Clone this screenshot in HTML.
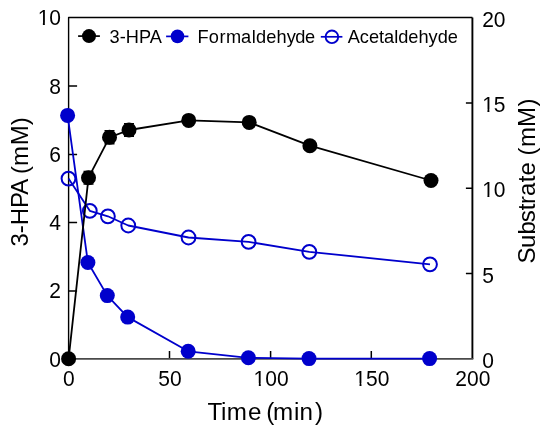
<!DOCTYPE html>
<html><head><meta charset="utf-8"><title>3-HPA time course</title>
<style>html,body{margin:0;padding:0;background:#fff;width:550px;height:433px;overflow:hidden}svg{display:block}</style>
</head><body>
<svg width="550" height="433" viewBox="0 0 550 433"><rect width="550" height="433" fill="#fff"/><path d="M169.5,358.9V350.9 M270.6,358.9V350.9 M371.3,358.9V350.9 M68.6,291.0H77.1 M68.6,222.6H77.1 M68.6,154.4H77.1 M68.6,85.9H77.1 M472.4,273.5H465.9 M472.4,188.2H465.9 M472.4,102.9H465.9" stroke="#000" stroke-width="1.5" fill="none"/><path d="M68.6,358.9V17.5H472.4" fill="none" stroke="#000" stroke-width="1.4" stroke-linejoin="round"/><path d="M472.4,17.5V358.9" fill="none" stroke="#000" stroke-width="1.9"/><path d="M67.89999999999999,358.9H473.29999999999995" fill="none" stroke="#4a4a4a" stroke-width="1.6"/><polyline points="68.50,178.60 89.80,210.80 107.90,216.30 128.25,225.50 188.50,237.50 248.60,241.90 309.30,251.80 430.00,264.30" fill="none" stroke="#0000cc" stroke-width="1.8" stroke-linejoin="round"/><polyline points="67.60,115.40 87.90,262.50 107.30,295.60 127.70,317.10 188.20,351.30 248.40,357.80 309.00,358.60 429.60,358.60" fill="none" stroke="#0000cc" stroke-width="1.8" stroke-linejoin="round"/><circle cx="67.60" cy="115.40" r="7.5" fill="#0000cc"/><circle cx="87.90" cy="262.50" r="7.5" fill="#0000cc"/><circle cx="107.30" cy="295.60" r="7.5" fill="#0000cc"/><circle cx="127.70" cy="317.10" r="7.5" fill="#0000cc"/><circle cx="188.20" cy="351.30" r="7.5" fill="#0000cc"/><circle cx="248.40" cy="357.80" r="7.5" fill="#0000cc"/><circle cx="309.00" cy="358.60" r="7.5" fill="#0000cc"/><circle cx="429.60" cy="358.60" r="7.5" fill="#0000cc"/><circle cx="68.50" cy="178.60" r="6.9" fill="none" stroke="#0000cc" stroke-width="2"/><circle cx="89.80" cy="210.80" r="6.9" fill="none" stroke="#0000cc" stroke-width="2"/><circle cx="107.90" cy="216.30" r="6.9" fill="none" stroke="#0000cc" stroke-width="2"/><circle cx="128.25" cy="225.50" r="6.9" fill="none" stroke="#0000cc" stroke-width="2"/><circle cx="188.50" cy="237.50" r="6.9" fill="none" stroke="#0000cc" stroke-width="2"/><circle cx="248.60" cy="241.90" r="6.9" fill="none" stroke="#0000cc" stroke-width="2"/><circle cx="309.30" cy="251.80" r="6.9" fill="none" stroke="#0000cc" stroke-width="2"/><circle cx="430.00" cy="264.30" r="6.9" fill="none" stroke="#0000cc" stroke-width="2"/><polyline points="68.60,358.80 88.50,177.70 109.50,137.30 129.00,130.00 188.70,120.40 249.20,122.40 309.90,145.70 431.00,180.50" fill="none" stroke="#000" stroke-width="1.8" stroke-linejoin="round"/><circle cx="68.60" cy="358.80" r="7.5" fill="#000"/><circle cx="88.50" cy="177.70" r="7.5" fill="#000"/><path d="M83.5,171.4H93.5M83.5,184.0H93.5" stroke="#000" stroke-width="1.5"/><circle cx="109.50" cy="137.30" r="7.5" fill="#000"/><path d="M104.5,130.8H114.5M104.5,143.8H114.5" stroke="#000" stroke-width="1.5"/><circle cx="129.00" cy="130.00" r="7.5" fill="#000"/><path d="M124.0,123.8H134.0M124.0,136.2H134.0" stroke="#000" stroke-width="1.5"/><circle cx="188.70" cy="120.40" r="7.5" fill="#000"/><circle cx="249.20" cy="122.40" r="7.5" fill="#000"/><circle cx="309.90" cy="145.70" r="7.5" fill="#000"/><circle cx="431.00" cy="180.50" r="7.5" fill="#000"/><path d="M78.1,36.1H99.9" stroke="#000" stroke-width="1.7"/><circle cx="89.0" cy="36.1" r="7.0" fill="#000"/><path d="M166.1,36.4H188.4" stroke="#0000cc" stroke-width="1.7"/><circle cx="177.5" cy="36.4" r="6.8" fill="#0000cc"/><path d="M320.8,36.8H342.4" stroke="#0000cc" stroke-width="1.7"/><circle cx="331.9" cy="36.8" r="6.3" fill="none" stroke="#0000cc" stroke-width="1.9"/><defs><clipPath id="no1foot"><rect x="-20" y="-40" width="120" height="37.8"/><rect x="5.23" y="-2.3000000000000003" width="1.96" height="12"/><rect x="11.68" y="-2.3000000000000003" width="80" height="12"/></clipPath></defs><g font-family="'Liberation Sans', Arial, Helvetica, sans-serif" fill="#000"><text transform="translate(109.60,43.20) scale(1,1.05)" font-size="18.2" text-anchor="start" >3-HPA</text><text transform="translate(197.5,43.2) scale(1,1.05)" font-size="18.2" x="0.00 11.32 21.94 28.50 43.46 54.18 58.53 68.75 79.07 89.29 97.79 107.51">Formaldehyde</text><text transform="translate(347.65,43.20) scale(1,1.05)" font-size="18.2" text-anchor="start" >Acetaldehyde</text><text transform="translate(49.32,366.60) scale(1,1.06)" font-size="21">0</text><text transform="translate(49.32,298.32) scale(1,1.06)" font-size="21">2</text><text transform="translate(49.32,230.04) scale(1,1.06)" font-size="21">4</text><text transform="translate(49.32,161.66) scale(1,1.06)" font-size="21">6</text><text transform="translate(49.32,93.88) scale(1,1.06)" font-size="21">8</text><text transform="translate(37.65,25.00) scale(1,1.06)" font-size="21" clip-path="url(#no1foot)">10</text><text transform="translate(482.20,368.00) scale(1,1.06)" font-size="21">0</text><text transform="translate(482.20,282.65) scale(1,1.06)" font-size="21">5</text><text transform="translate(482.20,197.30) scale(1,1.06)" font-size="21" clip-path="url(#no1foot)">10</text><text transform="translate(482.20,111.95) scale(1,1.06)" font-size="21" clip-path="url(#no1foot)">15</text><text transform="translate(482.20,26.60) scale(1,1.06)" font-size="21">20</text><text transform="translate(62.96,385.60) scale(1,1.06)" font-size="21">0</text><text transform="translate(158.32,385.60) scale(1,1.06)" font-size="21">50</text><text transform="translate(253.59,385.60) scale(1,1.06)" font-size="21" clip-path="url(#no1foot)">100</text><text transform="translate(354.29,385.60) scale(1,1.06)" font-size="21" clip-path="url(#no1foot)">150</text><text transform="translate(455.29,385.60) scale(1,1.06)" font-size="21">200</text><text x="207.40 220.98 226.85 247.89 260.24 266.16 272.93 294.07 299.44 315.09" y="419.8" font-size="24.2">Time (min)</text><text transform="translate(28.4,181.5) rotate(-90)" x="-65.11 -51.77 -43.78 -26.44 -13.22 1.17 7.54 15.53 36.33 56.31" y="0" font-size="24.0">3-HPA (mM)</text><text transform="translate(534.9,180.7) rotate(-90)" x="-82.69 -67.19 -53.84 -41.48 -29.48 -23.33 -15.33 -1.48 5.19 18.53 25.20 33.69 53.69 74.17" y="0" font-size="24.0">Substrate (mM)</text></g></svg>
</body></html>
